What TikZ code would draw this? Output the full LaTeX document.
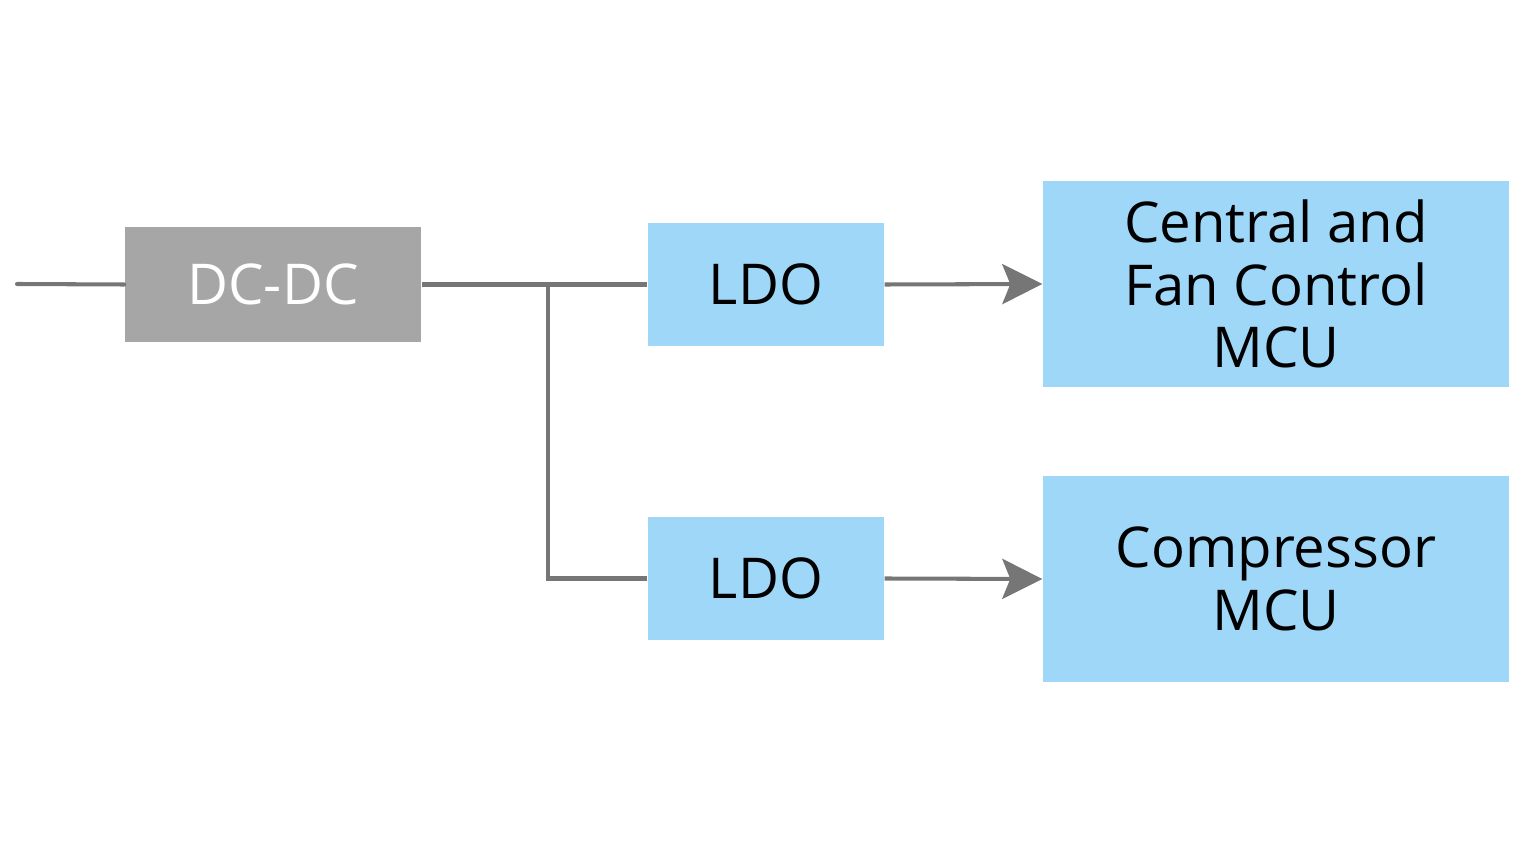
\documentclass[tikz,border=0pt]{standalone}
\usepackage{fontspec}
\setmainfont{Open Sans}
\usetikzlibrary{arrows.meta}
\definecolor{bl}{HTML}{9FD7F8}
\definecolor{gb}{HTML}{A6A6A6}
\definecolor{ln}{HTML}{767676}
\begin{document}
\begin{tikzpicture}[x=0.01cm,y=-0.01cm,
  box/.style={draw=none,inner sep=0,align=center,font=\fontsize{16}{17.8}\selectfont},
  wire/.style={draw=ln,line width=1.15pt},
  arr/.style={wire,-{Stealth[length=0.4cm,width=0.4cm,inset=0.08cm]}}]
\useasboundingbox (0,0) rectangle (1536,864);
\node[box,fill=gb,text=white,minimum width=296*0.01cm,minimum height=115*0.01cm] (dc) at (273,284.5) {DC-DC};
\node[box,fill=bl,minimum width=236*0.01cm,minimum height=123*0.01cm] (l1) at (766,284.5) {LDO};
\node[box,fill=bl,minimum width=236*0.01cm,minimum height=123*0.01cm] (l2) at (766,578.5) {LDO};
\node[box,fill=bl,minimum width=466*0.01cm,minimum height=206*0.01cm] (m1) at (1276,284) {Central and\\Fan Control\\MCU};
\node[box,fill=bl,minimum width=466*0.01cm,minimum height=206*0.01cm] (m2) at (1276,579) {Compressor\\MCU};
\coordinate (in) at (17,284);
\coordinate (br) at (548,284);
\draw[wire,line cap=round] (in) -- (dc.west);
\draw[wire] (dc.east) -- (l1.west);
\draw[wire] (br) |- (l2.west);
\draw[arr] (l1.east) -- (m1.west);
\draw[arr] (l2.east) -- (m2.west);
\end{tikzpicture}
\end{document}
